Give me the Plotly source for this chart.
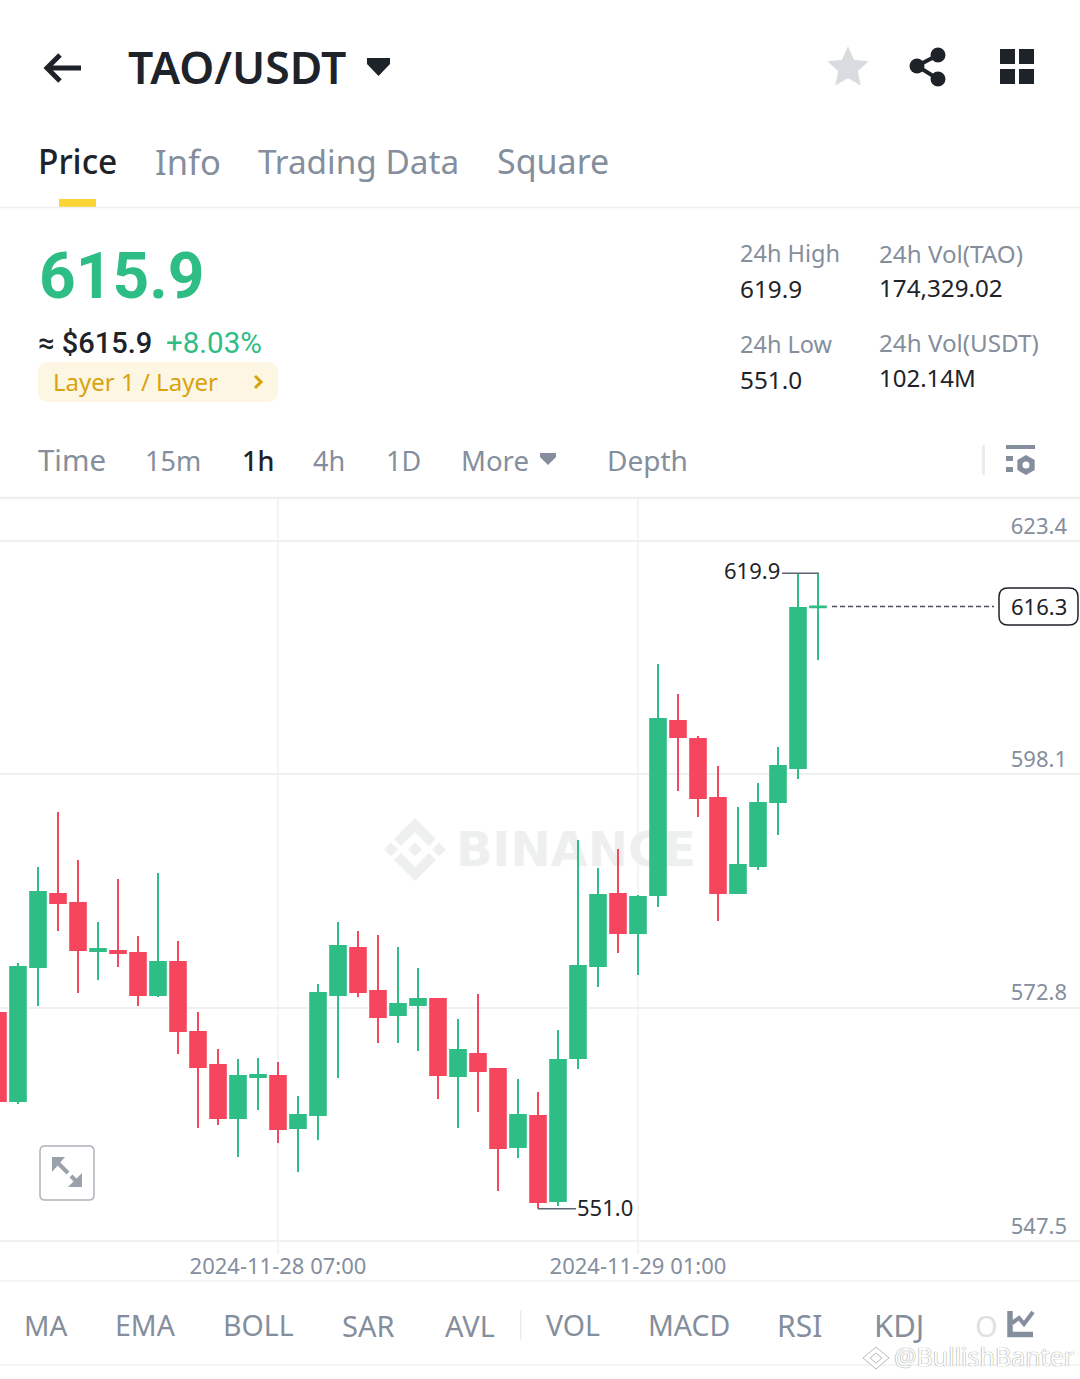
import math
import pandas as pd
import plotly.graph_objects as go

# hourly candles
times = pd.date_range("2024-11-27 17:00", periods=43, freq="h")
opens = [572.22, 562.68, 577.21, 585.12, 584.15, 578.94, 578.94, 578.73, 574.17, 577.75, 570.16,
         566.58, 560.84, 565.28, 565.39, 559.75, 561.16, 574.17, 579.27, 574.61, 572.00, 573.09,
         573.74, 565.39, 567.77, 566.15, 557.69, 561.05, 551.84, 567.34, 577.32, 585.12, 580.89,
         585.02, 603.88, 601.93, 595.53, 585.23, 588.16, 595.10, 598.79, 616.20]
highs = [572.50, 577.64, 588.05, 594.02, 588.81, 582.09, 586.75, 580.57, 587.40, 580.03, 572.33,
         568.32, 567.23, 567.34, 566.91, 563.22, 575.37, 582.09, 581.11, 580.68, 579.38, 577.10,
         573.85, 571.57, 574.28, 566.26, 565.06, 563.65, 570.38, 590.98, 587.94, 590.00, 585.02,
         610.06, 606.81, 602.26, 599.00, 594.56, 597.16, 601.06, 619.90, 619.90]
lows = [562.40, 562.35, 572.98, 581.11, 574.39, 575.80, 577.21, 572.98, 573.96, 567.77, 559.75,
        560.08, 556.61, 561.70, 558.13, 554.98, 558.45, 565.17, 573.96, 568.97, 568.97, 568.10,
        562.90, 559.75, 561.49, 552.92, 556.50, 551.00, 551.29, 566.15, 575.04, 578.73, 576.34,
        583.71, 596.29, 593.47, 582.20, 585.23, 587.73, 591.52, 597.59, 610.50]
closes = [562.68, 577.21, 585.34, 584.15, 579.05, 579.16, 578.73, 574.17, 577.75, 570.27, 566.37,
          560.84, 565.39, 565.50, 559.64, 561.16, 574.39, 579.49, 574.50, 571.79, 573.20, 573.74,
          565.50, 568.21, 565.93, 557.58, 561.16, 551.73, 567.12, 577.32, 585.02, 580.89, 584.80,
          604.10, 602.15, 595.53, 585.23, 588.27, 594.99, 599.00, 616.13, 616.30]
times = times[:len(opens)]

price_ticks = [623.4, 598.1, 572.8, 547.5]
time_ticks = ["2024-11-28 07:00", "2024-11-29 01:00"]
high_price = 619.9
low_price = 551.0
last_price = 616.3

GREEN = "#2EBD85"
RED = "#F6465D"
DARK = "#1E2329"
GREY = "#848E9C"
LINE = "#EFF0F2"
FONT = "Noto Sans"
W, H = 1080, 1379


def px(x):
    return x / W


def py(y):
    return 1 - y / H


shapes = []
notes = []


def poly(points, fill=None, line=None, lw=0, close=True, layer="above"):
    d = "M" + " L".join(f"{px(x):.5f},{py(y):.5f}" for x, y in points) + (" Z" if close else "")
    shapes.append(dict(type="path", xref="paper", yref="paper", path=d, layer=layer,
                       fillcolor=fill if fill else "rgba(0,0,0,0)",
                       line=dict(color=line if line else "rgba(0,0,0,0)", width=lw)))


def box(x0, y0, x1, y1, fill=None, r=0, line=None, lw=0, layer="above"):
    p = lambda x, y: f"{px(x):.5f},{py(y):.5f}"
    d = (f"M{p(x0 + r, y0)} L{p(x1 - r, y0)} Q{p(x1, y0)} {p(x1, y0 + r)} L{p(x1, y1 - r)} "
         f"Q{p(x1, y1)} {p(x1 - r, y1)} L{p(x0 + r, y1)} Q{p(x0, y1)} {p(x0, y1 - r)} "
         f"L{p(x0, y0 + r)} Q{p(x0, y0)} {p(x0 + r, y0)} Z")
    shapes.append(dict(type="path", xref="paper", yref="paper", path=d, layer=layer,
                       fillcolor=fill if fill else "rgba(0,0,0,0)",
                       line=dict(color=line if line else "rgba(0,0,0,0)", width=lw)))


def dot(x, y, r, fill):
    shapes.append(dict(type="circle", xref="paper", yref="paper", x0=px(x - r), x1=px(x + r),
                       y0=py(y + r), y1=py(y - r), fillcolor=fill, line=dict(width=0)))


def label(text, x, y, size, color=GREY, anchor="left", weight=400, family=FONT, **kw):
    notes.append(dict(text=text, xref="paper", yref="paper", x=px(x), y=py(y), showarrow=False,
                      xanchor=anchor, yanchor="middle", borderpad=0, borderwidth=0,
                      font=dict(family=family, size=size, color=color, weight=weight, **kw)))


def rule(y, width=1.5, color=LINE):
    shapes.append(dict(type="line", xref="paper", yref="paper", x0=0, x1=1, y0=py(y), y1=py(y),
                       line=dict(color=color, width=width)))


# header
poly([(60, 55), (47, 68), (60, 81)], line=DARK, lw=5, close=False)
poly([(48, 68), (81, 68)], line=DARK, lw=5, close=False)
label("TAO/USDT", 128, 67, 44.5, DARK, weight=600)
poly([(367, 58), (390, 58), (390, 64), (378.5, 76), (367, 64)], fill=DARK)
star = []
for i in range(10):
    r = 18 if i % 2 == 0 else 8.5
    a = -math.pi / 2 + i * math.pi / 5
    star.append((848 + r * math.cos(a), 68 + r * math.sin(a)))
poly(star, fill="#D8DBE0", line="#D8DBE0", lw=3)
poly([(938, 55), (917, 66), (938, 79)], line=DARK, lw=4, close=False)
dot(938, 55, 7.5, DARK)
dot(917, 66, 7.5, DARK)
dot(938, 79, 7.5, DARK)
box(1000, 49, 1015, 64, fill=DARK)
box(1019, 49, 1034, 64, fill=DARK)
box(1000, 69, 1015, 84, fill=DARK)
box(1019, 69, 1034, 84, fill=DARK)

# tabs
label("Price", 38, 161, 33.5, DARK, weight=500)
label("Info", 155, 161, 34.5)
label("Trading Data", 258, 161, 33.3)
label("Square", 497, 161, 34)
box(59, 199, 96, 207, fill="#FCD535")
rule(207.5)

# price block
label("615.9", 39, 276, 64, GREEN, weight=700, family="Roboto")
label("≈ $615.9", 38, 343, 29, DARK, weight=500, family="Roboto")
label("+8.03%", 166, 343, 29.5, GREEN, family="Roboto")
box(38, 362, 278, 402, fill="#FDF6E3", r=11)
label("Layer 1 / Layer", 53, 382, 24, "#D9A30F")
poly([(255, 376), (261, 382), (255, 388)], line="#D9A30F", lw=3, close=False)

label("24h High", 740, 253, 23.5)
label("619.9", 740, 288, 24.3, DARK)
label("24h Low", 740, 344, 23.5)
label("551.0", 740, 379, 24.3, DARK)
label("24h Vol(TAO)", 879, 253, 24.2)
label("174,329.02", 879, 287, 24.2, DARK)
label("24h Vol(USDT)", 879, 343, 24.2)
label("102.14M", 879, 378, 24, DARK)

# interval row
label("Time", 38, 460, 29.4)
label("15m", 145, 460, 27)
label("1h", 242, 460, 27, DARK, weight=500)
label("4h", 313, 460, 27)
label("1D", 386, 460, 27)
label("More", 461, 460, 27.5)
poly([(540, 453), (556, 453), (556, 457), (548, 465), (540, 457)], fill=GREY)
label("Depth", 607, 460, 28)
box(982, 445, 985, 475, fill="#EAECEF")
box(1006, 445, 1035, 449, fill=GREY)
box(1006, 456, 1013, 461, fill=GREY)
box(1006, 467, 1013, 472, fill=GREY)
hexagon = [(1026 + 10 * math.sin(i * math.pi / 3), 465 + 10 * math.cos(i * math.pi / 3)) for i in range(6)]
poly(hexagon, fill=GREY)
dot(1026, 465, 3.5, "white")
rule(498, width=2.5)

# binance mark, drawn under the candles
WM = "#EEF0F0"
poly([(415, 818), (436, 839), (429, 846), (415, 832), (401, 846), (394, 839)], fill=WM, layer="below")
poly([(415, 881), (436, 860), (429, 853), (415, 867), (401, 853), (394, 860)], fill=WM, layer="below")
for cx in (391, 415, 439):
    poly([(cx, 842.5), (cx + 7, 849.5), (cx, 856.5), (cx - 7, 849.5)], fill=WM, layer="below")

# vertical grid stops above the date labels
for t in time_ticks:
    shapes.append(dict(type="line", xref="x2", yref="paper", x0=t, x1=t, y0=py(1254), y1=py(499),
                       layer="below", line=dict(color=LINE, width=1.5)))

# high / low / last price markers
shapes.append(dict(type="line", xref="paper", yref="y2", x0=px(782), x1=px(819), y0=high_price, y1=high_price,
                   line=dict(color="#5E6673", width=1.5)))
shapes.append(dict(type="line", xref="paper", yref="y2", x0=px(538), x1=px(576), y0=low_price, y1=low_price,
                   line=dict(color="#5E6673", width=1.5)))
shapes.append(dict(type="line", xref="paper", yref="y2", x0=px(832), x1=px(994), y0=last_price, y1=last_price,
                   line=dict(color="#474D57", width=1.5, dash="5px,3px")))
label(f"{high_price}", 780, 570, 22, DARK, anchor="right")
label(f"{low_price}", 576.5, 1207, 22, DARK)
box(999, 588, 1078, 625, fill="white", r=9, line="#1E2329", lw=1.5)
label(f"{last_price}", 1038.5, 605.5, 22, DARK, anchor="center")

# expand button
box(40, 1146, 94, 1200, fill="white", r=5, line="#AEB4BC", lw=1.5)
poly([(52, 1157), (65, 1157), (52, 1172)], fill="#9AA1AB")
poly([(56, 1161), (68, 1173)], line="#9AA1AB", lw=4, close=False)
poly([(82, 1187), (68, 1187), (82, 1173)], fill="#9AA1AB")
poly([(78, 1183), (71, 1176)], line="#9AA1AB", lw=4, close=False)

# indicator row
rule(1281)
rule(1365)
for name, x, size in [("MA", 24, 28), ("EMA", 115, 28.5), ("BOLL", 223, 28.5), ("SAR", 342, 29), ("AVL", 445, 29),
                      ("VOL", 546, 28.5), ("MACD", 648, 28.5), ("RSI", 777, 30), ("KDJ", 874, 31)]:
    label(name, x, 1325, size)
label("O", 975, 1325, 29, "#DDE0E5")
box(520, 1310, 521.5, 1340, fill="#EAECEF")
poly([(1010, 1311), (1010, 1334.5), (1033, 1334.5)], line=GREY, lw=5.5, close=False)
poly([(1012, 1323), (1019, 1318), (1024, 1324), (1033, 1312)], line=GREY, lw=4, close=False)

# user watermark
label("@BullishBanter", 894, 1356, 25, "white", shadow="0 0 1px #555555")
poly([(876, 1347), (889, 1358), (876, 1369), (863, 1358)], fill="white", line="#B8B8B8", lw=1)
poly([(876, 1353), (882, 1358), (876, 1363), (870, 1358)], fill="white", line="#B8B8B8", lw=1)

fig = go.Figure()

# goes on the lower axes so the candles sit on top of it
fig.add_trace(go.Scatter(x=[456], y=[854], mode="text", text=["BINANCE"], textposition="middle right",
                         textfont=dict(family="DejaVu Sans", size=48, color=WM, weight=700),
                         xaxis="x", yaxis="y", hoverinfo="skip", showlegend=False))

fig.add_trace(go.Candlestick(x=times, open=opens, high=highs, low=lows, close=closes,
                             xaxis="x2", yaxis="y2", whiskerwidth=0, showlegend=False,
                             increasing=dict(line=dict(color=GREEN, width=2), fillcolor=GREEN),
                             decreasing=dict(line=dict(color=RED, width=2), fillcolor=RED)))

domain_y = [py(1281), py(499)]
fig.update_layout(
    width=W,
    height=H,
    autosize=False,
    margin=dict(l=0, r=0, t=0, b=0),
    paper_bgcolor="white",
    plot_bgcolor="rgba(0,0,0,0)",
    boxgap=0.22,
    boxgroupgap=0,
    showlegend=False,
    shapes=shapes,
    annotations=notes,
    font=dict(family=FONT),
    xaxis=dict(domain=[0, 1], range=[0, W], visible=False, fixedrange=True),
    yaxis=dict(domain=domain_y, range=[1281, 499], visible=False, fixedrange=True),
    xaxis2=dict(overlaying="x", anchor="y2", type="date", side="bottom",
                range=["2024-11-27 17:06", "2024-11-29 23:06"],
                tickvals=time_ticks, ticktext=time_ticks, ticks="",
                ticklabelposition="inside", tickfont=dict(family=FONT, size=22, color=GREY),
                showgrid=False, zeroline=False, showline=False,
                rangeslider=dict(visible=False)),
    yaxis2=dict(overlaying="y", anchor="x2", side="right",
                range=[543.16, 627.95],
                tickvals=price_ticks, ticktext=[f"{v}" for v in price_ticks], ticks="",
                ticklabelposition="inside", ticklabelshift=-15, ticklabelstandoff=10,
                tickfont=dict(family=FONT, size=22, color=GREY),
                showgrid=True, gridcolor=LINE, gridwidth=1.5, zeroline=False, showline=False),
)

fig.write_html("out.html", config=dict(displayModeBar=False),
               post_script="document.body.style.margin='0';")
